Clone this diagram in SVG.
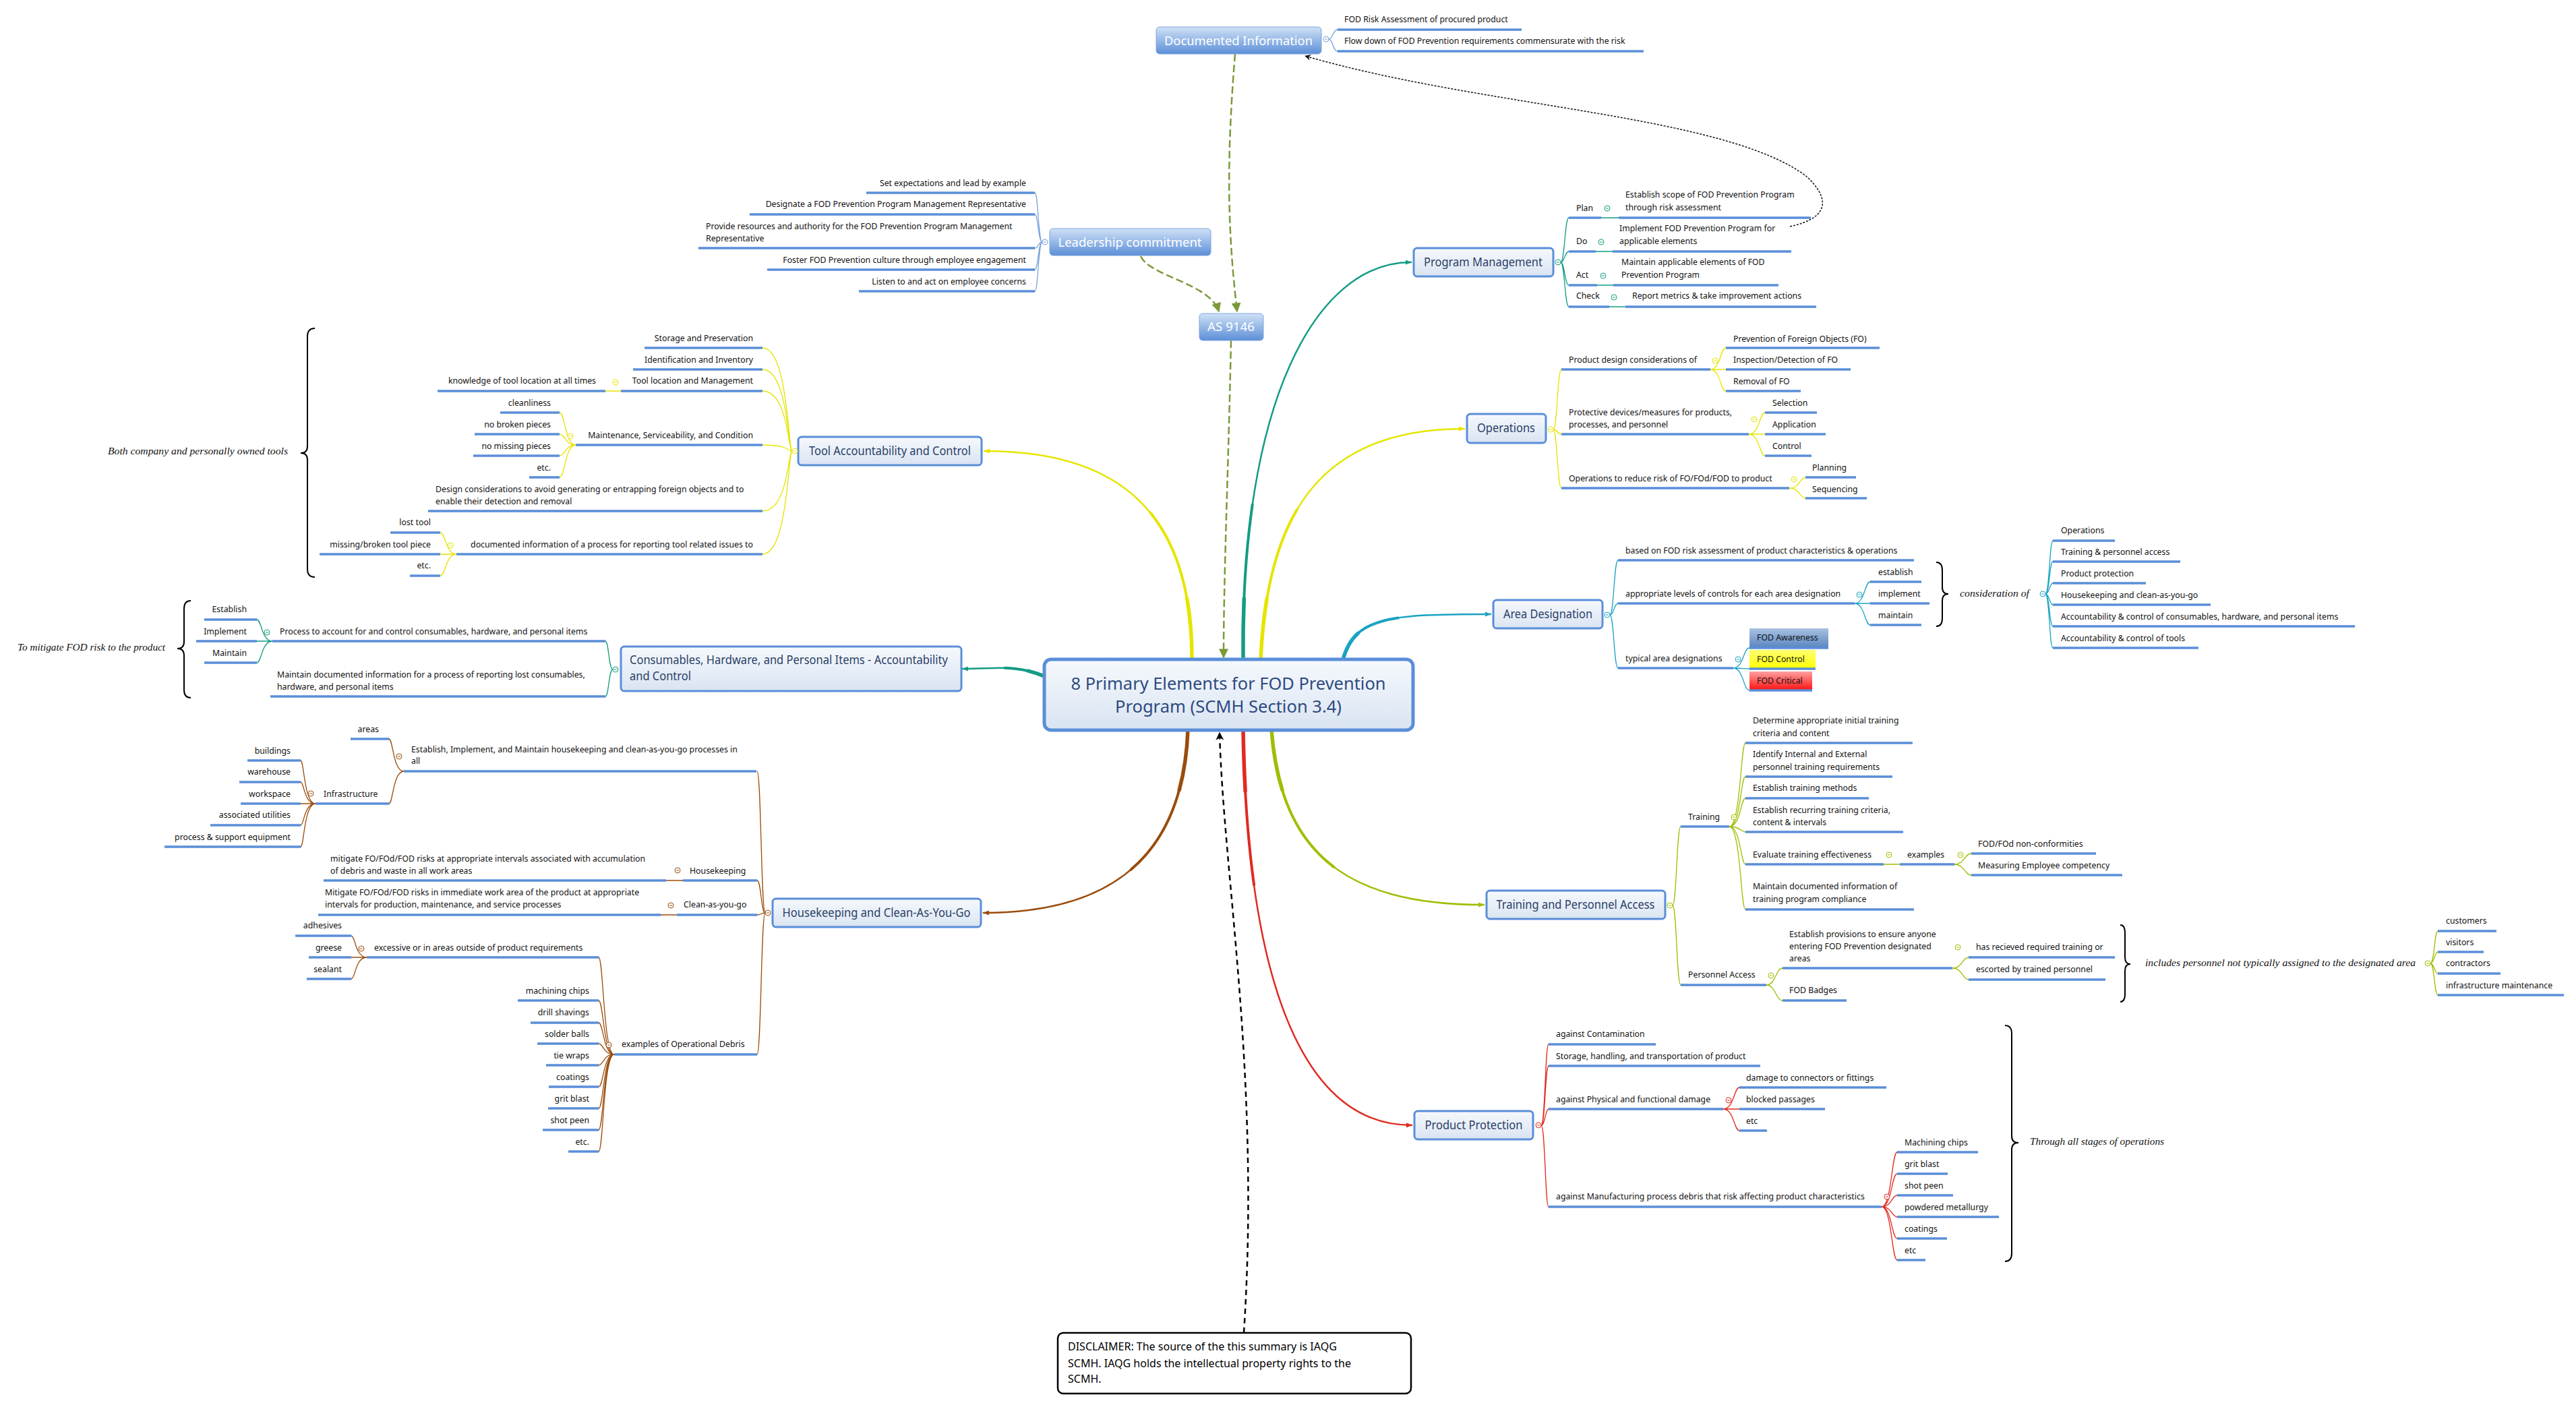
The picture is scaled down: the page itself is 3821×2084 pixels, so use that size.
<svg xmlns="http://www.w3.org/2000/svg" xmlns:xlink="http://www.w3.org/1999/xlink" width="3821" height="2084" viewBox="0 0 3821 2084">
<style>
.t{font-family:"Noto Sans","Liberation Sans",sans-serif;font-size:12.3px;fill:#111}
.e{text-anchor:end}
.bar{stroke:#5a8ed8;stroke-width:3.5;fill:none}
.tp{font-family:"Noto Sans","Liberation Sans",sans-serif;font-size:17.5px;fill:#2b3f66;text-anchor:middle}
.tpl{font-family:"Noto Sans","Liberation Sans",sans-serif;font-size:17.5px;fill:#2b3f66}
.tb{fill:url(#gTopic);stroke:#5a8ed8;stroke-width:3}
.fb{fill:url(#gFloat);stroke:#7fa6dc;stroke-width:1}
.tf{font-family:"Noto Sans","Liberation Sans",sans-serif;font-size:18.5px;fill:#fff;text-anchor:middle}
.it{font-family:"Liberation Serif","DejaVu Serif",serif;font-style:italic;font-size:14px;fill:#111}
.br{fill:none;stroke:#000;stroke-width:2}
.ln{fill:none;stroke:currentColor;stroke-width:1.3}
.main{fill:none;stroke:currentColor;stroke-width:2.5;stroke-linecap:round}
.m2{fill:none;stroke:currentColor;stroke-width:4;stroke-linecap:round;stroke-dasharray:230 9999}
.m3{fill:none;stroke:currentColor;stroke-width:5.5;stroke-linecap:round;stroke-dasharray:90 9999}
.cTeal{color:#139c82}
.cYel{color:#e5e500}
.cCyan{color:#1aa3c2}
.cGrn{color:#9fbe00}
.cRed{color:#e02a20}
.cBrn{color:#9a4c0c}
.cBlu{color:#7aa3dc}
.dash{fill:none;stroke:#7a9a3a;stroke-width:2.5;stroke-dasharray:11 5}
</style>
<defs>
<linearGradient id="gTopic" x1="0" y1="0" x2="0" y2="1"><stop offset="0" stop-color="#f6f9fd"/><stop offset="1" stop-color="#d9e4f2"/></linearGradient>
<linearGradient id="gFloat" x1="0" y1="0" x2="0" y2="1"><stop offset="0" stop-color="#d0e1f6"/><stop offset="1" stop-color="#5c8fd8"/></linearGradient>
<linearGradient id="gAw" x1="0" y1="0" x2="0" y2="1"><stop offset="0" stop-color="#a9c2e2"/><stop offset="1" stop-color="#5a84c0"/></linearGradient>
<linearGradient id="gCo" x1="0" y1="0" x2="0" y2="1"><stop offset="0" stop-color="#ffff70"/><stop offset="1" stop-color="#ffff00"/></linearGradient>
<linearGradient id="gCr" x1="0" y1="0" x2="0" y2="1"><stop offset="0" stop-color="#ffa0a0"/><stop offset="1" stop-color="#ff1010"/></linearGradient>
<g id="col"><circle r="4" fill="#fff" stroke="currentColor" stroke-width="1"/><path d="M-2 0H2" stroke="currentColor" stroke-width="1"/></g>
<marker id="aTeal" viewBox="0 0 10 10" refX="9" refY="5" markerWidth="9" markerHeight="9" markerUnits="userSpaceOnUse" orient="auto"><path d="M0 1L10 5L0 9z" fill="#139c82"/></marker>
<marker id="aYel" viewBox="0 0 10 10" refX="9" refY="5" markerWidth="9" markerHeight="9" markerUnits="userSpaceOnUse" orient="auto"><path d="M0 1L10 5L0 9z" fill="#e5e500"/></marker>
<marker id="aCyan" viewBox="0 0 10 10" refX="9" refY="5" markerWidth="9" markerHeight="9" markerUnits="userSpaceOnUse" orient="auto"><path d="M0 1L10 5L0 9z" fill="#1aa3c2"/></marker>
<marker id="aGrn" viewBox="0 0 10 10" refX="9" refY="5" markerWidth="9" markerHeight="9" markerUnits="userSpaceOnUse" orient="auto"><path d="M0 1L10 5L0 9z" fill="#9fbe00"/></marker>
<marker id="aRed" viewBox="0 0 10 10" refX="9" refY="5" markerWidth="9" markerHeight="9" markerUnits="userSpaceOnUse" orient="auto"><path d="M0 1L10 5L0 9z" fill="#e02a20"/></marker>
<marker id="aBrn" viewBox="0 0 10 10" refX="9" refY="5" markerWidth="9" markerHeight="9" markerUnits="userSpaceOnUse" orient="auto"><path d="M0 1L10 5L0 9z" fill="#9a4c0c"/></marker>
<marker id="aOl" viewBox="0 0 10 10" refX="9" refY="5" markerWidth="16" markerHeight="14" markerUnits="userSpaceOnUse" orient="auto"><path d="M0 0L10 5L0 10z" fill="#7a9a3a"/></marker>
<marker id="aBlk" viewBox="0 0 10 10" refX="9" refY="5" markerWidth="14" markerHeight="12" markerUnits="userSpaceOnUse" orient="auto"><path d="M0 0L10 5L0 10L3 5z" fill="#000"/></marker>
<marker id="aBlkS" viewBox="0 0 10 10" refX="9" refY="5" markerWidth="10" markerHeight="9" markerUnits="userSpaceOnUse" orient="auto"><path d="M0 0L10 5L0 10L3 5z" fill="#111"/></marker>
</defs>
<rect width="3821" height="2084" fill="#fff"/>

<g id="connectors">
 <g class="cTeal">
  <path class="main" marker-end="url(#aTeal)" d="M1844 978C1840 600 1950 389 2093 389"/>
  <path class="m2" d="M1844 978C1840 600 1950 389 2093 389"/>
  <path class="m3" d="M1844 978C1840 600 1950 389 2093 389"/>
  <path class="main" marker-end="url(#aTeal)" d="M1549 1003C1505 985 1480 992 1428 992"/>
  <path class="m2" style="stroke-dasharray:60 9999" d="M1549 1003C1505 985 1480 992 1428 992"/>
  <path class="m3" style="stroke-dasharray:25 9999" d="M1549 1003C1505 985 1480 992 1428 992"/>
  <path class="ln" d="M2315 389C2321 389 2321 323 2327 323M2315 389C2321 389 2321 373 2327 373M2315 389C2321 389 2321 423 2327 423M2315 389C2321 389 2321 455 2327 455M2375 323H2401M2367 373H2392M2369 423H2393M2387 455H2411"/>
  <path class="ln" d="M909 993C903 993 903 951 898 951M909 993C903 993 903 1033 898 1033M404 951C388 951 388 919 381 919M404 951H381M404 951C388 951 388 983 381 983"/>
 </g>
 <g class="cYel">
  <path class="main" marker-end="url(#aYel)" d="M1768 978C1768 760 1660 669 1460 669"/>
  <path class="m2" d="M1768 978C1768 760 1660 669 1460 669"/>
  <path class="m3" d="M1768 978C1768 760 1660 669 1460 669"/>
  <path class="main" marker-end="url(#aYel)" d="M1870 978C1880 760 1960 636 2172 636"/>
  <path class="m2" d="M1870 978C1880 760 1960 636 2172 636"/>
  <path class="m3" d="M1870 978C1880 760 1960 636 2172 636"/>
  <path class="ln" d="M1175 669C1169 669 1169 516 1131 516M1175 669C1169 669 1169 548 1131 548M1175 669C1169 669 1169 580 1131 580M1175 669C1169 669 1169 660 1131 660M1175 669C1169 669 1169 758 1131 758M1175 669C1169 669 1169 822 1131 822M921 580H898"/>
  <path class="ln" d="M854 660C838 660 838 612 830 612M854 660C838 660 838 644 830 644M854 660C838 660 838 676 830 676M854 660C838 660 838 708 830 708M677 822C661 822 661 790 653 790M677 822H653M677 822C661 822 661 854 653 854"/>
  <path class="ln" d="M2304 637C2310 637 2310 548 2316 548M2304 637C2310 637 2310 644 2316 644M2304 637C2310 637 2310 724 2316 724M2537 548C2552 548 2552 516 2560 516M2537 548H2560M2537 548C2552 548 2552 580 2560 580M2594 644C2610 644 2610 612 2618 612M2594 644H2618M2594 644C2610 644 2610 676 2618 676M2654 724C2670 724 2670 708 2678 708M2654 724C2670 724 2670 739 2678 739"/>
 </g>
 <g class="cCyan">
  <path class="main" marker-end="url(#aCyan)" d="M1992 978C2010 915 2060 911 2211 911"/>
  <path class="m2" style="stroke-dasharray:110 9999" d="M1992 978C2010 915 2060 911 2211 911"/>
  <path class="m3" style="stroke-dasharray:45 9999" d="M1992 978C2010 915 2060 911 2211 911"/>
  <path class="ln" d="M2388 912C2394 912 2394 831 2400 831M2388 912C2394 912 2394 895 2400 895M2388 912C2394 912 2394 991 2400 991M2751 895C2766 895 2766 863 2774 863M2751 895H2774M2751 895C2766 895 2766 927 2774 927"/>
  <path class="ln" d="M3034 881C3040 881 3040 802 3045 802M3034 881C3040 881 3040 833 3045 833M3034 881C3040 881 3040 865 3045 865M3034 881C3040 881 3040 897 3045 897M3034 881C3040 881 3040 929 3045 929M3034 881C3040 881 3040 961 3045 961M2571 991C2586 991 2586 961 2595 961M2571 991C2586 991 2586 992 2595 992M2571 991C2586 991 2586 1024 2595 1024"/>
 </g>
 <g class="cGrn">
  <path class="main" marker-end="url(#aGrn)" d="M1886 1083C1900 1260 1990 1342 2201 1342"/>
  <path class="m2" d="M1886 1083C1900 1260 1990 1342 2201 1342"/>
  <path class="m3" d="M1886 1083C1900 1260 1990 1342 2201 1342"/>
  <path class="ln" d="M2481 1343C2487 1343 2487 1226 2493 1226M2481 1343C2487 1343 2487 1461 2493 1461M2565 1226C2582 1226 2582 1102 2589 1102M2565 1226C2582 1226 2582 1152 2589 1152M2565 1226C2582 1226 2582 1184 2589 1184M2565 1226C2582 1226 2582 1234 2589 1234M2565 1226C2582 1226 2582 1282 2589 1282M2565 1226C2582 1226 2582 1349 2589 1349M2794 1282H2818M2899 1282C2914 1282 2914 1266 2924 1266M2899 1282C2914 1282 2914 1298 2924 1298"/>
  <path class="ln" d="M2620 1461C2634 1461 2634 1436 2644 1436M2620 1461C2634 1461 2634 1484 2644 1484M2896 1436C2911 1436 2911 1420 2920 1420M2896 1436C2911 1436 2911 1453 2920 1453M3605 1429C3611 1429 3611 1381 3616 1381M3605 1429C3611 1429 3611 1412 3616 1412M3605 1429C3611 1429 3611 1444 3616 1444M3605 1429C3611 1429 3611 1476 3616 1476"/>
 </g>
 <g class="cRed">
  <path class="main" marker-end="url(#aRed)" d="M1844 1083C1850 1450 1930 1669 2094 1669"/>
  <path class="m2" d="M1844 1083C1850 1450 1930 1669 2094 1669"/>
  <path class="m3" d="M1844 1083C1850 1450 1930 1669 2094 1669"/>
  <path class="ln" d="M2286 1669C2292 1669 2292 1549 2297 1549M2286 1669C2292 1669 2292 1581 2297 1581M2286 1669C2292 1669 2292 1645 2297 1645M2286 1669C2292 1669 2292 1790 2297 1790M2556 1645C2572 1645 2572 1613 2580 1613M2556 1645H2580M2556 1645C2572 1645 2572 1677 2580 1677"/>
  <path class="ln" d="M2791 1790C2806 1790 2806 1709 2814 1709M2791 1790C2806 1790 2806 1741 2814 1741M2791 1790C2806 1790 2806 1773 2814 1773M2791 1790C2806 1790 2806 1805 2814 1805M2791 1790C2806 1790 2806 1837 2814 1837M2791 1790C2806 1790 2806 1869 2814 1869"/>
 </g>
 <g class="cBrn">
  <path class="main" marker-end="url(#aBrn)" d="M1762 1083C1755 1260 1660 1354 1459 1354"/>
  <path class="m2" d="M1762 1083C1755 1260 1660 1354 1459 1354"/>
  <path class="m3" d="M1762 1083C1755 1260 1660 1354 1459 1354"/>
  <path class="ln" d="M1135 1354C1129 1354 1129 1144 1123 1144M1135 1354C1129 1354 1129 1306 1123 1306M1135 1354C1129 1354 1129 1357 1123 1357M1135 1354C1129 1354 1129 1564 1123 1564M599 1144C583 1144 583 1096 577 1096M599 1144C583 1144 583 1192 577 1192M1013 1306H988M1004 1357H980"/>
  <path class="ln" d="M468 1192C451 1192 451 1128 446 1128M468 1192C451 1192 451 1160 446 1160M468 1192H446M468 1192C451 1192 451 1224 446 1224M468 1192C451 1192 451 1256 446 1256"/>
  <path class="ln" d="M911 1564C895 1564 895 1420 888 1420M911 1564C895 1564 895 1484 888 1484M911 1564C895 1564 895 1517 888 1517M911 1564C895 1564 895 1548 888 1548M911 1564C895 1564 895 1580 888 1580M911 1564C895 1564 895 1612 888 1612M911 1564C895 1564 895 1644 888 1644M911 1564C895 1564 895 1676 888 1676M911 1564C895 1564 895 1708 888 1708M544 1420C527 1420 527 1388 521 1388M544 1420H521M544 1420C527 1420 527 1452 521 1452"/>
 </g>
 <g class="cBlu">
  <path class="ln" d="M1971 58C1977 58 1977 44 1984 44M1971 58C1977 58 1977 76 1984 76"/>
  <path class="ln" d="M1546 359C1540 359 1540 286 1535 286M1546 359C1540 359 1540 318 1535 318M1546 359C1540 359 1540 368 1535 368M1546 359C1540 359 1540 400 1535 400M1546 359C1540 359 1540 432 1535 432"/>
 </g>
 <path class="dash" marker-end="url(#aOl)" d="M1832 80C1818 250 1822 350 1835 462"/>
 <path class="dash" marker-end="url(#aOl)" d="M1692 380C1705 410 1795 420 1808 462"/>
 <path class="dash" marker-end="url(#aOl)" d="M1826 505C1822 700 1815 850 1815 975"/>
 <path fill="none" stroke="#111" stroke-width="1.5" stroke-dasharray="3 2" marker-end="url(#aBlkS)" d="M2655 336C2720 322 2710 290 2680 262C2560 170 2200 160 1936 83"/>
 <path fill="none" stroke="#000" stroke-width="2.5" stroke-dasharray="8 6" marker-end="url(#aBlk)" d="M1845 1977C1870 1600 1815 1300 1809 1087"/>
</g>

<g id="central">
 <rect x="1549" y="978" width="547" height="105" rx="10" fill="url(#gTopic)" stroke="#5a8ed8" stroke-width="5"/>
 <text x="1822" y="1023" text-anchor="middle" font-family="Noto Sans, Liberation Sans, sans-serif" font-size="24.7" fill="#2e4a80" textLength="467" lengthAdjust="spacingAndGlyphs">8 Primary Elements for FOD Prevention</text>
 <text x="1822" y="1057" text-anchor="middle" font-family="Noto Sans, Liberation Sans, sans-serif" font-size="24.7" fill="#2e4a80" textLength="336" lengthAdjust="spacingAndGlyphs">Program (SCMH Section 3.4)</text>
</g>

<g id="disclaimer">
 <rect x="1569" y="1977" width="524" height="90" rx="8" fill="#fff" stroke="#000" stroke-width="2.5"/>
 <text font-family="Noto Sans, Liberation Sans, sans-serif" font-size="16" fill="#000"><tspan x="1584" y="2003">DISCLAIMER: The source of the this summary is IAQG</tspan><tspan x="1584" y="2028">SCMH. IAQG holds the intellectual property rights to the</tspan><tspan x="1584" y="2051">SCMH.</tspan></text>
</g>

<g class="cBlu">
 <g id="documented-information">
  <rect class="fb" x="1715" y="40" width="245" height="40" rx="5"/>
  <text class="tf" x="1837" y="67" textLength="220" lengthAdjust="spacingAndGlyphs">Documented Information</text>
  <use href="#col" x="1967" y="58"/>
 </g>
 <g id="di-1"><path class="bar" d="M1984 44H2257"/><text class="t" x="1994" y="33">FOD Risk Assessment of procured product</text></g>
 <g id="di-2"><path class="bar" d="M1984 76H2438"/><text class="t" x="1994" y="65">Flow down of FOD Prevention requirements commensurate with the risk</text></g>
 <g id="leadership-commitment">
  <rect class="fb" x="1557" y="339" width="239" height="40" rx="5"/>
  <text class="tf" x="1676" y="366" textLength="213" lengthAdjust="spacingAndGlyphs">Leadership commitment</text>
  <use href="#col" x="1550" y="359"/>
 </g>
 <g id="lc-1"><path class="bar" d="M1285 286H1535"/><text class="t e" x="1522" y="276">Set expectations and lead by example</text></g>
 <g id="lc-2"><path class="bar" d="M1112 318H1535"/><text class="t e" x="1522" y="307">Designate a FOD Prevention Program Management Representative</text></g>
 <g id="lc-3"><path class="bar" d="M1036 368H1535"/><text class="t"><tspan x="1047" y="340">Provide resources and authority for the FOD Prevention Program Management</tspan><tspan x="1047" y="358">Representative</tspan></text></g>
 <g id="lc-4"><path class="bar" d="M1138 400H1535"/><text class="t e" x="1522" y="390">Foster FOD Prevention culture through employee engagement</text></g>
 <g id="lc-5"><path class="bar" d="M1274 432H1535"/><text class="t e" x="1522" y="422">Listen to and act on employee concerns</text></g>
</g>

<g id="as9146">
 <rect class="fb" x="1779" y="465" width="95" height="40" rx="5"/>
 <text class="tf" x="1826" y="491" textLength="70" lengthAdjust="spacingAndGlyphs">AS 9146</text>
</g>

<g class="cTeal">
 <g id="program-management">
  <rect class="tb" x="2097" y="368" width="207" height="42" rx="5"/>
  <text class="tp" x="2200" y="395" textLength="176" lengthAdjust="spacingAndGlyphs">Program Management</text>
  <use href="#col" x="2311" y="389"/>
 </g>
 <g id="pm-plan"><path class="bar" d="M2327 323H2375"/><text class="t" x="2338" y="313">Plan</text><use href="#col" x="2384" y="309"/></g>
 <g id="pm-plan-1"><path class="bar" d="M2401 323H2686"/><text class="t"><tspan x="2411" y="293">Establish scope of FOD Prevention Program</tspan><tspan x="2411" y="312">through risk assessment</tspan></text></g>
 <g id="pm-do"><path class="bar" d="M2327 373H2367"/><text class="t" x="2338" y="362">Do</text><use href="#col" x="2375" y="359"/></g>
 <g id="pm-do-1"><path class="bar" d="M2392 373H2657"/><text class="t"><tspan x="2402" y="343">Implement FOD Prevention Program for</tspan><tspan x="2402" y="362">applicable elements</tspan></text></g>
 <g id="pm-act"><path class="bar" d="M2327 423H2369"/><text class="t" x="2338" y="412">Act</text><use href="#col" x="2378" y="409"/></g>
 <g id="pm-act-1"><path class="bar" d="M2393 423H2638"/><text class="t"><tspan x="2405" y="393">Maintain applicable elements of FOD</tspan><tspan x="2405" y="412">Prevention Program</tspan></text></g>
 <g id="pm-check"><path class="bar" d="M2327 455H2387"/><text class="t" x="2338" y="443">Check</text><use href="#col" x="2394" y="441"/></g>
 <g id="pm-check-1"><path class="bar" d="M2411 455H2694"/><text class="t" x="2421" y="443">Report metrics &amp; take improvement actions</text></g>

 <g id="consumables">
  <rect class="tb" x="921" y="959" width="505" height="66" rx="5"/>
  <text class="tpl" x="934" y="985" textLength="472" lengthAdjust="spacingAndGlyphs">Consumables, Hardware, and Personal Items - Accountability</text>
  <text class="tpl" x="934" y="1009" textLength="91" lengthAdjust="spacingAndGlyphs">and Control</text>
  <use href="#col" x="913" y="993"/>
 </g>
 <g id="cons-process"><path class="bar" d="M404 951H898"/><text class="t" x="415" y="941">Process to account for and control consumables, hardware, and personal items</text><use href="#col" x="396" y="938"/></g>
 <g id="cons-establish"><path class="bar" d="M303 919H381"/><text class="t e" x="366" y="908">Establish</text></g>
 <g id="cons-implement"><path class="bar" d="M291 951H381"/><text class="t e" x="366" y="941">Implement</text></g>
 <g id="cons-maintain"><path class="bar" d="M303 983H381"/><text class="t e" x="366" y="973">Maintain</text></g>
 <g id="cons-doc"><path class="bar" d="M401 1033H898"/><text class="t"><tspan x="411" y="1005">Maintain documented information for a process of reporting lost consumables,</tspan><tspan x="411" y="1023">hardware, and personal items</tspan></text></g>
 <g id="cons-note"><path class="br" d="M283 891Q273 891 273 903L273 952Q273 962 263 962Q273 962 273 972L273 1023Q273 1035 283 1035"/><text class="it" x="26" y="965" textLength="219" lengthAdjust="spacingAndGlyphs">To mitigate FOD risk to the product</text></g>
</g>

<g class="cYel">
 <g id="tool-accountability">
  <rect class="tb" x="1184" y="648" width="272" height="42" rx="5"/>
  <text class="tp" x="1320" y="675" textLength="240" lengthAdjust="spacingAndGlyphs">Tool Accountability and Control</text>
  <use href="#col" x="1179" y="669"/>
 </g>
 <g id="tool-storage"><path class="bar" d="M956 516H1131"/><text class="t e" x="1117" y="506">Storage and Preservation</text></g>
 <g id="tool-ident"><path class="bar" d="M939 548H1131"/><text class="t e" x="1117" y="538">Identification and Inventory</text></g>
 <g id="tool-location"><path class="bar" d="M921 580H1131"/><text class="t e" x="1117" y="569">Tool location and Management</text><use href="#col" x="913" y="567"/></g>
 <g id="tool-knowledge"><path class="bar" d="M649 580H898"/><text class="t e" x="884" y="569">knowledge of tool location at all times</text></g>
 <g id="tool-maint"><path class="bar" d="M854 660H1131"/><text class="t e" x="1117" y="650">Maintenance, Serviceability, and Condition</text><use href="#col" x="846" y="647"/></g>
 <g id="tool-clean"><path class="bar" d="M742 612H830"/><text class="t e" x="817" y="602">cleanliness</text></g>
 <g id="tool-broken"><path class="bar" d="M704 644H830"/><text class="t e" x="817" y="634">no broken pieces</text></g>
 <g id="tool-missing"><path class="bar" d="M702 676H830"/><text class="t e" x="817" y="666">no missing pieces</text></g>
 <g id="tool-etc1"><path class="bar" d="M785 708H830"/><text class="t e" x="817" y="698">etc.</text></g>
 <g id="tool-design"><path class="bar" d="M635 758H1131"/><text class="t"><tspan x="646" y="730">Design considerations to avoid generating or entrapping foreign objects and to</tspan><tspan x="646" y="748">enable their detection and removal</tspan></text></g>
 <g id="tool-doc"><path class="bar" d="M677 822H1131"/><text class="t e" x="1117" y="812">documented information of a process for reporting tool related issues to</text><use href="#col" x="668" y="809"/></g>
 <g id="tool-lost"><path class="bar" d="M579 790H653"/><text class="t e" x="639" y="779">lost tool</text></g>
 <g id="tool-missbroken"><path class="bar" d="M474 822H653"/><text class="t e" x="639" y="812">missing/broken tool piece</text></g>
 <g id="tool-etc2"><path class="bar" d="M608 854H653"/><text class="t e" x="639" y="843">etc.</text></g>
 <g id="tool-note"><path class="br" d="M467 487Q456 487 456 499L456 662Q456 672 446 672Q456 672 456 682L456 844Q456 856 467 856"/><text class="it" x="160" y="674" textLength="267" lengthAdjust="spacingAndGlyphs">Both company and personally owned tools</text></g>

 <g id="operations">
  <rect class="tb" x="2176" y="614" width="117" height="43" rx="5"/>
  <text class="tp" x="2234" y="641" textLength="86" lengthAdjust="spacingAndGlyphs">Operations</text>
  <use href="#col" x="2300" y="637"/>
 </g>
 <g id="ops-design"><path class="bar" d="M2316 548H2537"/><text class="t" x="2327" y="538">Product design considerations of</text><use href="#col" x="2544" y="535"/></g>
 <g id="ops-prev"><path class="bar" d="M2560 516H2788"/><text class="t" x="2571" y="507">Prevention of Foreign Objects (FO)</text></g>
 <g id="ops-insp"><path class="bar" d="M2560 548H2745"/><text class="t" x="2571" y="538">Inspection/Detection of FO</text></g>
 <g id="ops-removal"><path class="bar" d="M2560 580H2671"/><text class="t" x="2571" y="570">Removal of FO</text></g>
 <g id="ops-protective"><path class="bar" d="M2316 644H2594"/><text class="t"><tspan x="2327" y="616">Protective devices/measures for products,</tspan><tspan x="2327" y="634">processes, and personnel</tspan></text><use href="#col" x="2602" y="622"/></g>
 <g id="ops-selection"><path class="bar" d="M2618 612H2695"/><text class="t" x="2629" y="602">Selection</text></g>
 <g id="ops-application"><path class="bar" d="M2618 644H2708"/><text class="t" x="2629" y="634">Application</text></g>
 <g id="ops-control"><path class="bar" d="M2618 676H2687"/><text class="t" x="2629" y="666">Control</text></g>
 <g id="ops-reduce"><path class="bar" d="M2316 724H2654"/><text class="t" x="2327" y="714">Operations to reduce risk of FO/FOd/FOD to product</text><use href="#col" x="2661" y="711"/></g>
 <g id="ops-planning"><path class="bar" d="M2678 708H2753"/><text class="t" x="2688" y="698">Planning</text></g>
 <g id="ops-sequencing"><path class="bar" d="M2678 739H2769"/><text class="t" x="2688" y="730">Sequencing</text></g>
</g>

<g class="cCyan">
 <g id="area-designation">
  <rect class="tb" x="2215" y="890" width="162" height="42" rx="5"/>
  <text class="tp" x="2296" y="917" textLength="132" lengthAdjust="spacingAndGlyphs">Area Designation</text>
  <use href="#col" x="2384" y="912"/>
 </g>
 <g id="ad-based"><path class="bar" d="M2400 831H2839"/><text class="t" x="2411" y="821">based on FOD risk assessment of product characteristics &amp; operations</text></g>
 <g id="ad-levels"><path class="bar" d="M2400 895H2751"/><text class="t" x="2411" y="885">appropriate levels of controls for each area designation</text><use href="#col" x="2758" y="882"/></g>
 <g id="ad-establish"><path class="bar" d="M2774 863H2850"/><text class="t" x="2786" y="853">establish</text></g>
 <g id="ad-implement"><path class="bar" d="M2774 895H2862"/><text class="t" x="2786" y="885">implement</text></g>
 <g id="ad-maintain"><path class="bar" d="M2774 927H2850"/><text class="t" x="2786" y="917">maintain</text></g>
 <g id="ad-consideration"><path class="br" d="M2872 834Q2881 834 2881 846L2881 871Q2881 881 2890 881Q2881 881 2881 891L2881 917Q2881 929 2872 929"/><text class="it" x="2907" y="885" textLength="103" lengthAdjust="spacingAndGlyphs">consideration of</text><use href="#col" x="3030" y="881"/></g>
 <g id="ad-c1"><path class="bar" d="M3045 802H3137"/><text class="t" x="3057" y="791">Operations</text></g>
 <g id="ad-c2"><path class="bar" d="M3045 833H3234"/><text class="t" x="3057" y="823">Training &amp; personnel access</text></g>
 <g id="ad-c3"><path class="bar" d="M3045 865H3183"/><text class="t" x="3057" y="855">Product protection</text></g>
 <g id="ad-c4"><path class="bar" d="M3045 897H3279"/><text class="t" x="3057" y="887">Housekeeping and clean-as-you-go</text></g>
 <g id="ad-c5"><path class="bar" d="M3045 929H3493"/><text class="t" x="3057" y="919">Accountability &amp; control of consumables, hardware, and personal items</text></g>
 <g id="ad-c6"><path class="bar" d="M3045 961H3261"/><text class="t" x="3057" y="951">Accountability &amp; control of tools</text></g>
 <g id="ad-typical"><path class="bar" d="M2400 991H2571"/><text class="t" x="2411" y="981">typical area designations</text><use href="#col" x="2578" y="978"/></g>
 <g id="ad-awareness"><rect x="2595" y="932" width="117" height="29" fill="url(#gAw)"/><path class="bar" d="M2595 961H2712"/><text class="t" x="2606" y="950">FOD Awareness</text></g>
 <g id="ad-control"><rect x="2595" y="964" width="98" height="28" fill="url(#gCo)"/><path class="bar" d="M2595 992H2693"/><text class="t" x="2606" y="982">FOD Control</text></g>
 <g id="ad-critical"><rect x="2595" y="996" width="93" height="28" fill="url(#gCr)"/><path class="bar" d="M2595 1024H2688"/><text class="t" x="2606" y="1014">FOD Critical</text></g>
</g>

<g class="cGrn">
 <g id="training-access">
  <rect class="tb" x="2205" y="1321" width="265" height="42" rx="5"/>
  <text class="tp" x="2337" y="1348" textLength="235" lengthAdjust="spacingAndGlyphs">Training and Personnel Access</text>
  <use href="#col" x="2477" y="1343"/>
 </g>
 <g id="tr-training"><path class="bar" d="M2493 1226H2565"/><text class="t" x="2504" y="1216">Training</text><use href="#col" x="2572" y="1212"/></g>
 <g id="tr-1"><path class="bar" d="M2589 1102H2837"/><text class="t"><tspan x="2600" y="1073">Determine appropriate initial training</tspan><tspan x="2600" y="1092">criteria and content</tspan></text></g>
 <g id="tr-2"><path class="bar" d="M2589 1152H2807"/><text class="t"><tspan x="2600" y="1123">Identify Internal and External</tspan><tspan x="2600" y="1142">personnel training requirements</tspan></text></g>
 <g id="tr-3"><path class="bar" d="M2589 1184H2772"/><text class="t" x="2600" y="1173">Establish training methods</text></g>
 <g id="tr-4"><path class="bar" d="M2589 1234H2823"/><text class="t"><tspan x="2600" y="1206">Establish recurring training criteria,</tspan><tspan x="2600" y="1224">content &amp; intervals</tspan></text></g>
 <g id="tr-5"><path class="bar" d="M2589 1282H2794"/><text class="t" x="2600" y="1272">Evaluate training effectiveness</text><use href="#col" x="2802" y="1268"/></g>
 <g id="tr-examples"><path class="bar" d="M2818 1282H2899"/><text class="t" x="2829" y="1272">examples</text><use href="#col" x="2908" y="1268"/></g>
 <g id="tr-ex1"><path class="bar" d="M2924 1266H3109"/><text class="t" x="2934" y="1256">FOD/FOd non-conformities</text></g>
 <g id="tr-ex2"><path class="bar" d="M2924 1298H3148"/><text class="t" x="2934" y="1288">Measuring Employee competency</text></g>
 <g id="tr-6"><path class="bar" d="M2589 1349H2839"/><text class="t"><tspan x="2600" y="1319">Maintain documented information of</tspan><tspan x="2600" y="1338">training program compliance</tspan></text></g>
 <g id="tr-personnel"><path class="bar" d="M2493 1461H2620"/><text class="t" x="2504" y="1450">Personnel Access</text><use href="#col" x="2627" y="1447"/></g>
 <g id="pa-1"><path class="bar" d="M2644 1436H2896"/><text class="t"><tspan x="2654" y="1390">Establish provisions to ensure anyone</tspan><tspan x="2654" y="1408">entering FOD Prevention designated</tspan><tspan x="2654" y="1426">areas</tspan></text><use href="#col" x="2904" y="1405"/></g>
 <g id="pa-received"><path class="bar" d="M2920 1420H3137"/><text class="t" x="2931" y="1409">has recieved required training or</text></g>
 <g id="pa-escorted"><path class="bar" d="M2920 1453H3123"/><text class="t" x="2931" y="1442">escorted by trained personnel</text></g>
 <g id="pa-badges"><path class="bar" d="M2644 1484H2739"/><text class="t" x="2654" y="1473">FOD Badges</text></g>
 <g id="pa-includes"><path class="br" d="M3145 1372Q3152 1372 3152 1384L3152 1420Q3152 1430 3160 1430Q3152 1430 3152 1440L3152 1474Q3152 1486 3145 1486"/><text class="it" x="3182" y="1433" textLength="401" lengthAdjust="spacingAndGlyphs">includes personnel not typically assigned to the designated area</text><use href="#col" x="3601" y="1429"/></g>
 <g id="pa-customers"><path class="bar" d="M3616 1381H3703"/><text class="t" x="3628" y="1370">customers</text></g>
 <g id="pa-visitors"><path class="bar" d="M3616 1412H3684"/><text class="t" x="3628" y="1402">visitors</text></g>
 <g id="pa-contractors"><path class="bar" d="M3616 1444H3709"/><text class="t" x="3628" y="1433">contractors</text></g>
 <g id="pa-infra"><path class="bar" d="M3616 1476H3803"/><text class="t" x="3628" y="1466">infrastructure maintenance</text></g>
</g>

<g class="cRed">
 <g id="product-protection">
  <rect class="tb" x="2098" y="1648" width="176" height="42" rx="5"/>
  <text class="tp" x="2186" y="1675" textLength="145" lengthAdjust="spacingAndGlyphs">Product Protection</text>
  <use href="#col" x="2282" y="1669"/>
 </g>
 <g id="pp-contam"><path class="bar" d="M2297 1549H2456"/><text class="t" x="2308" y="1538">against Contamination</text></g>
 <g id="pp-storage"><path class="bar" d="M2297 1581H2611"/><text class="t" x="2308" y="1571">Storage, handling, and transportation of product</text></g>
 <g id="pp-physical"><path class="bar" d="M2297 1645H2556"/><text class="t" x="2308" y="1635">against Physical and functional damage</text><use href="#col" x="2564" y="1632"/></g>
 <g id="pp-connectors"><path class="bar" d="M2580 1613H2798"/><text class="t" x="2590" y="1603">damage to connectors or fittings</text></g>
 <g id="pp-blocked"><path class="bar" d="M2580 1645H2707"/><text class="t" x="2590" y="1635">blocked passages</text></g>
 <g id="pp-etc1"><path class="bar" d="M2580 1677H2621"/><text class="t" x="2590" y="1667">etc</text></g>
 <g id="pp-manuf"><path class="bar" d="M2297 1790H2791"/><text class="t" x="2308" y="1779">against Manufacturing process debris that risk affecting product characteristics</text><use href="#col" x="2799" y="1775"/></g>
 <g id="pp-m1"><path class="bar" d="M2814 1709H2934"/><text class="t" x="2825" y="1699">Machining chips</text></g>
 <g id="pp-m2"><path class="bar" d="M2814 1741H2889"/><text class="t" x="2825" y="1731">grit blast</text></g>
 <g id="pp-m3"><path class="bar" d="M2814 1773H2897"/><text class="t" x="2825" y="1763">shot peen</text></g>
 <g id="pp-m4"><path class="bar" d="M2814 1805H2965"/><text class="t" x="2825" y="1795">powdered metallurgy</text></g>
 <g id="pp-m5"><path class="bar" d="M2814 1837H2888"/><text class="t" x="2825" y="1827">coatings</text></g>
 <g id="pp-m6"><path class="bar" d="M2814 1869H2856"/><text class="t" x="2825" y="1859">etc</text></g>
 <g id="pp-through"><path class="br" d="M2974 1521Q2984 1521 2984 1533L2984 1685Q2984 1695 2994 1695Q2984 1695 2984 1705L2984 1859Q2984 1871 2974 1871"/><text class="it" x="3011" y="1698" textLength="199" lengthAdjust="spacingAndGlyphs">Through all stages of operations</text></g>
</g>

<g class="cBrn">
 <g id="housekeeping">
  <rect class="tb" x="1146" y="1333" width="309" height="42" rx="5"/>
  <text class="tp" x="1300" y="1360" textLength="279" lengthAdjust="spacingAndGlyphs">Housekeeping and Clean-As-You-Go</text>
  <use href="#col" x="1139" y="1354"/>
 </g>
 <g id="hk-establish"><path class="bar" d="M599 1144H1122"/><text class="t"><tspan x="610" y="1116">Establish, Implement, and Maintain housekeeping and clean-as-you-go processes in</tspan><tspan x="610" y="1133">all</tspan></text><use href="#col" x="592" y="1122"/></g>
 <g id="hk-areas"><path class="bar" d="M520 1096H577"/><text class="t e" x="562" y="1086">areas</text></g>
 <g id="hk-infra"><path class="bar" d="M468 1192H577"/><text class="t" x="480" y="1182">Infrastructure</text><use href="#col" x="461" y="1177"/></g>
 <g id="hk-buildings"><path class="bar" d="M367 1128H446"/><text class="t e" x="431" y="1118">buildings</text></g>
 <g id="hk-warehouse"><path class="bar" d="M355 1160H446"/><text class="t e" x="431" y="1149">warehouse</text></g>
 <g id="hk-workspace"><path class="bar" d="M357 1192H446"/><text class="t e" x="431" y="1182">workspace</text></g>
 <g id="hk-utilities"><path class="bar" d="M312 1224H446"/><text class="t e" x="431" y="1213">associated utilities</text></g>
 <g id="hk-process"><path class="bar" d="M244 1256H446"/><text class="t e" x="431" y="1246">process &amp; support equipment</text></g>
 <g id="hk-housekeeping"><path class="bar" d="M1013 1306H1123"/><text class="t" x="1023" y="1296">Housekeeping</text><use href="#col" x="1005" y="1291"/></g>
 <g id="hk-mitigate1"><path class="bar" d="M480 1306H988"/><text class="t"><tspan x="490" y="1278">mitigate FO/FOd/FOD risks at appropriate intervals associated with accumulation</tspan><tspan x="490" y="1296">of debris and waste in all work areas</tspan></text></g>
 <g id="hk-clean"><path class="bar" d="M1004 1357H1123"/><text class="t" x="1014" y="1346">Clean-as-you-go</text><use href="#col" x="995" y="1343"/></g>
 <g id="hk-mitigate2"><path class="bar" d="M472 1357H980"/><text class="t"><tspan x="482" y="1328">Mitigate FO/FOd/FOD risks in immediate work area of the product at appropriate</tspan><tspan x="482" y="1346">intervals for production, maintenance, and service processes</tspan></text></g>
 <g id="hk-examples"><path class="bar" d="M911 1564H1123"/><text class="t" x="922" y="1553">examples of Operational Debris</text><use href="#col" x="903" y="1550"/></g>
 <g id="hk-excessive"><path class="bar" d="M544 1420H888"/><text class="t" x="555" y="1410">excessive or in areas outside of product requirements</text><use href="#col" x="536" y="1407"/></g>
 <g id="hk-adhesives"><path class="bar" d="M438 1388H521"/><text class="t e" x="507" y="1377">adhesives</text></g>
 <g id="hk-greese"><path class="bar" d="M458 1420H521"/><text class="t e" x="507" y="1410">greese</text></g>
 <g id="hk-sealant"><path class="bar" d="M455 1452H521"/><text class="t e" x="507" y="1442">sealant</text></g>
 <g id="hk-d1"><path class="bar" d="M768 1484H888"/><text class="t e" x="874" y="1474">machining chips</text></g>
 <g id="hk-d2"><path class="bar" d="M787 1517H888"/><text class="t e" x="874" y="1506">drill shavings</text></g>
 <g id="hk-d3"><path class="bar" d="M797 1548H888"/><text class="t e" x="874" y="1538">solder balls</text></g>
 <g id="hk-d4"><path class="bar" d="M810 1580H888"/><text class="t e" x="874" y="1570">tie wraps</text></g>
 <g id="hk-d5"><path class="bar" d="M814 1612H888"/><text class="t e" x="874" y="1602">coatings</text></g>
 <g id="hk-d6"><path class="bar" d="M813 1644H888"/><text class="t e" x="874" y="1634">grit blast</text></g>
 <g id="hk-d7"><path class="bar" d="M805 1676H888"/><text class="t e" x="874" y="1666">shot peen</text></g>
 <g id="hk-d8"><path class="bar" d="M843 1708H888"/><text class="t e" x="874" y="1698">etc.</text></g>
</g>
</svg>
